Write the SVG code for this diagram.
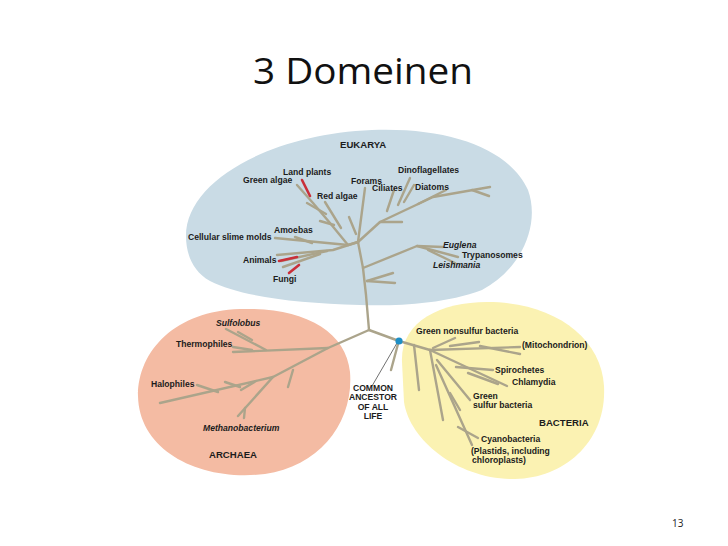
<svg xmlns="http://www.w3.org/2000/svg" width="728" height="546" viewBox="0 0 728 546">
<style>
.br{fill:none;stroke:#aba48b;stroke-width:2.4;stroke-linecap:round;stroke-linejoin:round}
.rd{fill:none;stroke:#c9303a;stroke-width:2.6;stroke-linecap:round}
.lb{font-family:"Liberation Sans",Arial,sans-serif;font-weight:bold;font-size:8.6px;fill:#1c1c1c}
.it{font-style:italic}
.dm{font-family:"Liberation Sans",Arial,sans-serif;font-weight:bold;font-size:9.6px;fill:#1c1c1c}
.ca{text-anchor:middle}
</style>
<rect width="728" height="546" fill="#ffffff"/>
<text x="253" y="84" font-family="'Open Sans',sans-serif" font-size="37" fill="#111" textLength="220" lengthAdjust="spacingAndGlyphs">3 Domeinen</text>

<g id="bacteria-domain">
<path d="M402,362 C400,322 440,302 487,302 C552,302 601,336 604,386 C607,441 565,478 515,479 C460,480 410,442 404,402 Z" fill="#fbf2b2"/>
</g>
<g id="archaea-domain">
<path d="M138,396 C138,350 176,311 240,309 C302,307 346,330 350,372 C354,422 320,466 265,474 C200,482 139,451 138,396 Z" fill="#f4bba3"/>
</g>
<g id="eukarya-domain">
<path d="M186,236 C186,180 272,134 372,130 C452,127 510,150 528,190 C541,226 520,270 482,290 C442,305 392,306 360,305 C292,303 240,296 210,281 C192,271 186,253 186,236 Z" fill="#c9dbe5"/>
</g>

<g id="connectors">
<!-- trunk -->
<polyline class="br" points="369,330 366,295 363,268 358,242"/>
<!-- Euglena group -->
<polyline class="br" points="363,268 417,246 443,247"/>
<line class="br" x1="417" y1="246" x2="458" y2="257"/>
<line class="br" x1="428" y1="250" x2="455" y2="263"/>
<!-- fork -->
<line class="br" x1="367" y1="281" x2="393" y2="273"/>
<line class="br" x1="367" y1="281" x2="395" y2="283"/>
<!-- forams -->
<line class="br" x1="358" y1="242" x2="365" y2="188"/>
<line class="br" x1="356" y1="234" x2="349" y2="217"/>
<!-- green algae / land plants -->
<polyline class="br" points="358,242 348,245 330,223 313,203 297,185"/>
<line class="br" x1="307" y1="203" x2="326" y2="214"/>
<line class="br" x1="320" y1="221" x2="334" y2="225"/>
<line class="br" x1="325" y1="202" x2="341" y2="228"/>
<line class="rd" x1="302" y1="180" x2="310" y2="196"/>
<!-- slime molds, amoebas -->
<line class="br" x1="348" y1="245" x2="275" y2="238"/>
<line class="br" x1="295" y1="237" x2="312" y2="243"/>
<!-- animals, fungi -->
<polyline class="br" points="358,242 333,250 277,255"/>
<line class="br" x1="327" y1="251" x2="281" y2="261"/>
<line class="br" x1="320" y1="254" x2="283" y2="267"/>
<line class="rd" x1="279" y1="261" x2="297" y2="257"/>
<line class="rd" x1="289" y1="273" x2="299" y2="265"/>
<!-- upper right -->
<polyline class="br" points="358,242 380,222 433,197 490,187"/>
<line class="br" x1="380" y1="222" x2="402" y2="222"/>
<line class="br" x1="472" y1="190" x2="489" y2="196"/>
<line class="br" x1="387" y1="211" x2="394" y2="190"/>
<line class="br" x1="398" y1="205" x2="410" y2="178"/>
<line class="br" x1="404" y1="202" x2="414" y2="185"/>
<line class="br" x1="418" y1="204" x2="446" y2="190"/>
<!-- Archaea -->
<polyline class="br" points="369,330 328,348 233,352"/>
<line class="br" x1="266" y1="350" x2="226" y2="329"/>
<line class="br" x1="252" y1="340" x2="238" y2="332"/>
<line class="br" x1="252" y1="350" x2="233" y2="347"/>
<polyline class="br" points="328,348 273,377 160,403"/>
<line class="br" x1="218" y1="392" x2="197" y2="385"/>
<line class="br" x1="240" y1="387" x2="225" y2="382"/>
<line class="br" x1="256" y1="381" x2="241" y2="390"/>
<line class="br" x1="293" y1="370" x2="288" y2="387"/>
<line class="br" x1="273" y1="377" x2="238" y2="416"/>
<line class="br" x1="245" y1="408" x2="244" y2="418"/>
<!-- Bacteria -->
<line class="br" x1="369" y1="330" x2="399" y2="341"/>
<line class="br" x1="398" y1="344" x2="391" y2="370"/>
<line class="br" x1="399" y1="341" x2="430" y2="350"/>
<line class="br" x1="414" y1="345" x2="419" y2="390"/>
<line class="br" x1="430" y1="350" x2="520" y2="347"/>
<line class="br" x1="433" y1="348" x2="455" y2="338"/>
<line class="br" x1="450" y1="346" x2="479" y2="342"/>
<line class="br" x1="480" y1="346" x2="520" y2="354"/>
<line class="br" x1="430" y1="350" x2="507" y2="386"/>
<line class="br" x1="456" y1="367" x2="493" y2="370"/>
<line class="br" x1="468" y1="373" x2="498" y2="384"/>
<line class="br" x1="437" y1="360" x2="470" y2="400"/>
<line class="br" x1="430" y1="350" x2="443" y2="420"/>
<line class="br" x1="436" y1="365" x2="472" y2="445"/>
<line class="br" x1="450" y1="393" x2="460" y2="410"/>
<line class="br" x1="458" y1="427" x2="478" y2="438"/>
<line x1="397" y1="343" x2="372" y2="386" stroke="#333" stroke-width="0.7"/>
<circle cx="399" cy="341" r="3.6" fill="#1e8fc6"/>
</g>

<g id="labels">
<text class="dm" x="340" y="148">EUKARYA</text>
<text class="lb" x="283" y="175">Land plants</text>
<text class="lb" x="243" y="183">Green algae</text>
<text class="lb" x="317" y="199">Red algae</text>
<text class="lb" x="351" y="184">Forams</text>
<text class="lb" x="372" y="191">Ciliates</text>
<text class="lb" x="398" y="173">Dinoflagellates</text>
<text class="lb" x="415" y="190">Diatoms</text>
<text class="lb" x="274" y="233">Amoebas</text>
<text class="lb" x="188" y="240">Cellular slime molds</text>
<text class="lb" x="243" y="263">Animals</text>
<text class="lb" x="273" y="282">Fungi</text>
<text class="lb it" x="443" y="248">Euglena</text>
<text class="lb" x="462" y="258">Trypanosomes</text>
<text class="lb it" x="433" y="268">Leishmania</text>

<text class="lb it" x="216" y="326">Sulfolobus</text>
<text class="lb" x="176" y="347">Thermophiles</text>
<text class="lb" x="151" y="387">Halophiles</text>
<text class="lb it" x="203" y="431">Methanobacterium</text>
<text class="dm" x="209" y="458">ARCHAEA</text>

<text class="lb ca" x="373" y="391">COMMON</text>
<text class="lb ca" x="373" y="400">ANCESTOR</text>
<text class="lb ca" x="373" y="410">OF ALL</text>
<text class="lb ca" x="373" y="419">LIFE</text>

<text class="lb" x="416" y="334">Green nonsulfur bacteria</text>
<text class="lb" x="522" y="348">(Mitochondrion)</text>
<text class="lb" x="495" y="373">Spirochetes</text>
<text class="lb" x="512" y="385">Chlamydia</text>
<text class="lb" x="473" y="399">Green</text>
<text class="lb" x="473" y="408">sulfur bacteria</text>
<text class="dm" x="539" y="426">BACTERIA</text>
<text class="lb" x="481" y="442">Cyanobacteria</text>
<text class="lb" x="471" y="454">(Plastids, including</text>
<text class="lb" x="472" y="463">chloroplasts)</text>
</g>
<text x="672" y="527" font-family="'Open Sans',sans-serif" font-size="10" fill="#222">13</text>
</svg>
